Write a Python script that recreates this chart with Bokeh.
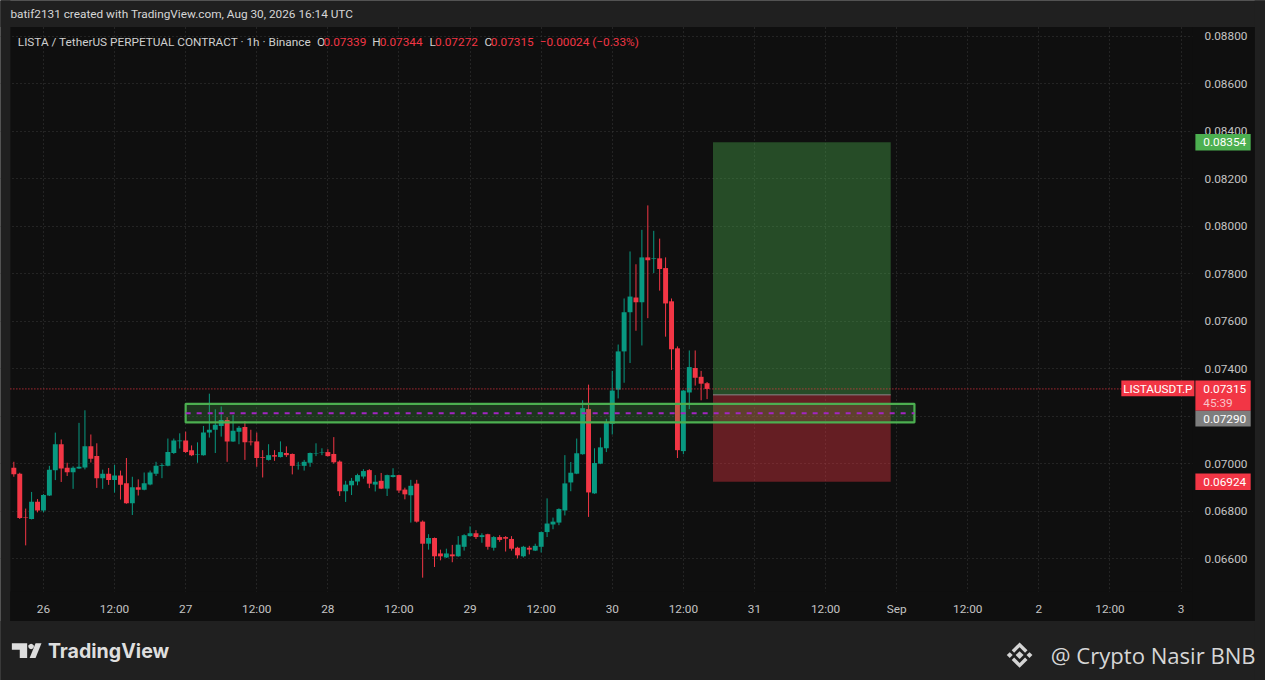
from bokeh.plotting import figure
from bokeh.models import (ColumnDataSource, Range1d, FixedTicker, PrintfTickFormatter,
                          BoxAnnotation, Label, PolyAnnotation)
from bokeh.embed import file_html
from bokeh.resources import INLINE
import math

# ------------------------------------------------------------------ data
# hourly candles, first one = 25 Aug 19:00 (hour -5 relative to 26 Aug 00:00)
first_hour = -5
opens = [
    0.06983, 0.06958, 0.06775, 0.06767, 0.06840, 0.06803, 0.06866, 0.06972, 0.07082, 0.06983,
    0.06964, 0.06980, 0.06984, 0.07073, 0.07032, 0.06939, 0.06958, 0.06931, 0.06950, 0.06918,
    0.06833, 0.06901, 0.06890, 0.06912, 0.06958, 0.06991, 0.06991, 0.07045, 0.07095, 0.07098,
    0.07057, 0.07039, 0.07036, 0.07131, 0.07143, 0.07159, 0.07184, 0.07094, 0.07135, 0.07155,
    0.07094, 0.07094, 0.07028, 0.07016, 0.07036, 0.07028, 0.07045, 0.07041, 0.06993, 0.06991,
    0.07004, 0.07043, 0.07047, 0.07049, 0.07041, 0.07009, 0.06884, 0.06909, 0.06925, 0.06946,
    0.06973, 0.06912, 0.06928, 0.06895, 0.06944, 0.06952, 0.06891, 0.06867, 0.06916, 0.06756,
    0.06663, 0.06687, 0.06622, 0.06605, 0.06618, 0.06610, 0.06650, 0.06695, 0.06707, 0.06691,
    0.06703, 0.06646, 0.06691, 0.06691, 0.06683, 0.06646, 0.06610, 0.06646, 0.06634, 0.06650,
    0.06712, 0.06744, 0.06752, 0.06803, 0.06921, 0.06958, 0.07040, 0.07230, 0.06875, 0.07000,
    0.07065, 0.07168, 0.07312, 0.07473, 0.07638, 0.07700, 0.07680, 0.07869, 0.07862, 0.07865,
    0.07824, 0.07684, 0.07486, 0.07053, 0.07300, 0.07403, 0.07366, 0.07339]
highs = [
    0.07008, 0.06962, 0.06811, 0.06881, 0.06851, 0.06872, 0.06991, 0.07131, 0.07102, 0.07004,
    0.06989, 0.07172, 0.07225, 0.07123, 0.07086, 0.06975, 0.06982, 0.06995, 0.06971, 0.07024,
    0.06945, 0.06934, 0.06963, 0.06971, 0.07008, 0.07002, 0.07106, 0.07106, 0.07128, 0.07135,
    0.07077, 0.07090, 0.07159, 0.07295, 0.07229, 0.07241, 0.07196, 0.07205, 0.07159, 0.07180,
    0.07143, 0.07131, 0.07057, 0.07082, 0.07057, 0.07094, 0.07073, 0.07043, 0.07008, 0.07016,
    0.07047, 0.07086, 0.07065, 0.07061, 0.07112, 0.07014, 0.06928, 0.06940, 0.06958, 0.06977,
    0.06977, 0.06952, 0.06961, 0.06954, 0.06981, 0.06954, 0.06899, 0.06932, 0.06932, 0.06761,
    0.06703, 0.06689, 0.06638, 0.06642, 0.06658, 0.06695, 0.06703, 0.06736, 0.06720, 0.06707,
    0.06705, 0.06695, 0.06699, 0.06695, 0.06695, 0.06650, 0.06654, 0.06654, 0.06663, 0.06714,
    0.06854, 0.06773, 0.06812, 0.07036, 0.07007, 0.07106, 0.07267, 0.07333, 0.07065, 0.07110,
    0.07189, 0.07391, 0.07502, 0.07696, 0.07894, 0.07840, 0.07985, 0.08088, 0.07981, 0.07948,
    0.07869, 0.07696, 0.07494, 0.07310, 0.07477, 0.07477, 0.07391, 0.07344]
lows = [
    0.06945, 0.06767, 0.06656, 0.06765, 0.06795, 0.06795, 0.06864, 0.06931, 0.06923, 0.06948,
    0.06894, 0.06978, 0.06976, 0.07005, 0.06898, 0.06894, 0.06911, 0.06878, 0.06849, 0.06831,
    0.06784, 0.06866, 0.06888, 0.06909, 0.06948, 0.06939, 0.06989, 0.07041, 0.07064, 0.07045,
    0.07032, 0.07004, 0.07034, 0.07110, 0.07045, 0.07114, 0.07008, 0.07092, 0.07082, 0.07016,
    0.07077, 0.06987, 0.06942, 0.07013, 0.07012, 0.07026, 0.07028, 0.06955, 0.06975, 0.06971,
    0.06987, 0.07032, 0.07036, 0.07030, 0.07000, 0.06864, 0.06839, 0.06868, 0.06909, 0.06937,
    0.06897, 0.06883, 0.06893, 0.06864, 0.06942, 0.06877, 0.06850, 0.06752, 0.06752, 0.06520,
    0.06638, 0.06565, 0.06593, 0.06603, 0.06585, 0.06608, 0.06634, 0.06693, 0.06683, 0.06667,
    0.06638, 0.06634, 0.06671, 0.06630, 0.06634, 0.06601, 0.06605, 0.06618, 0.06632, 0.06626,
    0.06691, 0.06724, 0.06741, 0.06782, 0.06884, 0.06956, 0.07038, 0.06776, 0.06873, 0.06998,
    0.07049, 0.07123, 0.07275, 0.07341, 0.07424, 0.07560, 0.07498, 0.07613, 0.07803, 0.07729,
    0.07535, 0.07395, 0.07024, 0.07040, 0.07230, 0.07329, 0.07267, 0.07272]
closes = [
    0.06956, 0.06771, 0.06773, 0.06840, 0.06803, 0.06868, 0.06975, 0.07082, 0.06980, 0.06964,
    0.06983, 0.06987, 0.07073, 0.07021, 0.06939, 0.06958, 0.06931, 0.06950, 0.06911, 0.06833,
    0.06901, 0.06890, 0.06918, 0.06963, 0.06991, 0.06995, 0.07049, 0.07098, 0.07098, 0.07049,
    0.07036, 0.07041, 0.07131, 0.07143, 0.07164, 0.07184, 0.07094, 0.07139, 0.07151, 0.07090,
    0.07090, 0.07024, 0.07025, 0.07036, 0.07030, 0.07049, 0.07036, 0.06991, 0.06995, 0.07008,
    0.07045, 0.07045, 0.07049, 0.07032, 0.07006, 0.06884, 0.06912, 0.06928, 0.06952, 0.06969,
    0.06916, 0.06924, 0.06895, 0.06952, 0.06952, 0.06887, 0.06871, 0.06907, 0.06756, 0.06663,
    0.06687, 0.06610, 0.06610, 0.06622, 0.06610, 0.06659, 0.06699, 0.06707, 0.06691, 0.06699,
    0.06650, 0.06691, 0.06679, 0.06684, 0.06642, 0.06614, 0.06650, 0.06638, 0.06654, 0.06712,
    0.06748, 0.06756, 0.06809, 0.06917, 0.06962, 0.07044, 0.07234, 0.06879, 0.07003, 0.07069,
    0.07172, 0.07308, 0.07473, 0.07638, 0.07704, 0.07680, 0.07869, 0.07857, 0.07865, 0.07820,
    0.07675, 0.07482, 0.07057, 0.07308, 0.07407, 0.07362, 0.07337, 0.07315]

date_tick_hours = [0, 12, 24, 36, 48, 60, 72, 84, 96, 108, 120, 132, 144, 156, 168, 180, 192]
date_tick_labels = ["26", "12:00", "27", "12:00", "28", "12:00", "29", "12:00", "30",
                    "12:00", "31", "12:00", "Sep", "12:00", "2", "12:00", "3"]
price_ticks = [0.066, 0.068, 0.070, 0.072, 0.074, 0.076, 0.078, 0.080, 0.082, 0.084, 0.086, 0.088]

last_price = 0.07315
countdown = "45:39"
symbol_tag = "LISTAUSDT.P"
entry_price = 0.07290
target_price = 0.08354
stop_price = 0.06924
position_hours = [113, 143]
zone_top, zone_mid, zone_bottom = 0.07252, 0.07212, 0.07174
zone_hours = [24, 147]

header_text = "batif2131 created with TradingView.com, Aug 30, 2026 16:14 UTC"
legend_title = "LISTA / TetherUS PERPETUAL CONTRACT · 1h · Binance"
ohlc_names = ["O", "H", "L", "C"]
ohlc_values = ["0.07339", "0.07344", "0.07272", "0.07315"]
change_text = "\u22120.00024 (\u22120.33%)"
brand_text = "TradingView"
watermark_text = "@ Crypto Nasir BNB"

# ------------------------------------------------------------------ layout
UP, DOWN = "#089981", "#f23645"
GREEN, GRAY_LBL = "#4caf50", "#7e7e7e"
OUTER, PANEL = "#202020", "#0f0f0f"
FONT = "Roboto"

# the figure shows the whole 1281x696 design, scaled into a 1265x680 canvas
DW, DH = 1281, 696
CW, CH = 1265, 680
SX, SY = CW / DW, CH / DH
HOUR0_PX, PX_PER_HOUR = 43.5, 6.0                    # design-pixel calibration
PRICE0, PRICE0_PX, PX_PER_PRICE = 0.088, 36.7, 24300.0


def xd(px):
    return (px - HOUR0_PX) / PX_PER_HOUR


def yd(py):
    return PRICE0 - (py - PRICE0_PX) / PX_PER_PRICE


def py_of(price):
    return PRICE0_PX + (PRICE0 - price) * PX_PER_PRICE


def fs(v):
    return f"{v * (SX + SY) / 2:.1f}px"


p = figure(frame_width=CW, frame_height=CH,
           x_range=Range1d(xd(0), xd(DW)), y_range=Range1d(yd(DH), yd(0)),
           output_backend="svg", toolbar_location=None, y_axis_location="right",
           min_border_left=0, min_border_right=0, min_border_top=0, min_border_bottom=0,
           background_fill_color=PANEL, border_fill_color=OUTER)
p.outline_line_color = None
p.title.visible = False

# axes: drawn at the outer edge, labels pulled back into the dark panel
p.xaxis.ticker = FixedTicker(ticks=date_tick_hours)
p.xaxis.major_label_overrides = {h: s for h, s in zip(date_tick_hours, date_tick_labels)}
p.yaxis.ticker = FixedTicker(ticks=price_ticks)
p.yaxis.formatter = PrintfTickFormatter(format="%.5f")
for ax in (p.xaxis[0], p.yaxis[0]):
    ax.axis_line_color = None
    ax.minor_tick_line_color = None
    ax.major_tick_line_color = None
    ax.major_tick_out = 0
    ax.major_tick_in = 0
    ax.major_label_text_color = "#c4c4c4"
    ax.major_label_text_font = FONT
    ax.major_label_text_font_size = fs(12)
p.yaxis.major_label_standoff = round(1219 * SX - CW)
p.xaxis.major_label_standoff = round(615 * SY - CH)

p.grid.grid_line_color = "#3a3a3a"
p.grid.grid_line_dash = "1 3"


def rect(px0, px1, py0, py1, color):
    p.quad(left=xd(px0), right=xd(px1), top=yd(py0), bottom=yd(py1),
           fill_color=color, line_color=None)


# panel frame: outer margins, and the axis strips without grid
rect(-10, 1300, -10, 27, OUTER)
rect(-10, 1300, 635, 710, OUTER)
rect(-10, 10, -10, 710, OUTER)
rect(1270, 1300, -10, 710, OUTER)
rect(1207, 1270, 27, 635, PANEL)
rect(10, 1207, 605, 635, PANEL)

# position tool (long)
p.quad(left=position_hours[0], right=position_hours[1], bottom=entry_price, top=target_price,
       fill_color=GREEN, fill_alpha=0.38, line_color=None)
p.quad(left=position_hours[0], right=position_hours[1], bottom=stop_price, top=entry_price,
       fill_color=DOWN, fill_alpha=0.38, line_color=None)
p.segment(x0=position_hours[0], y0=entry_price, x1=position_hours[1], y1=entry_price,
          line_color="#8a8a8a", line_width=1)

# candles
hours = [first_hour + i for i in range(len(opens))]
src = ColumnDataSource(dict(
    x=hours, h=highs, l=lows,
    top=[max(o, c) for o, c in zip(opens, closes)],
    bottom=[min(o, c) for o, c in zip(opens, closes)],
    color=[UP if c >= o else DOWN for o, c in zip(opens, closes)]))
p.segment(x0="x", y0="h", x1="x", y1="l", line_color="color", line_width=1, source=src)
p.vbar(x="x", width=5 / 6, top="top", bottom="bottom", fill_color="color",
       line_color=None, source=src)

# support zone rectangle
p.quad(left=zone_hours[0], right=zone_hours[1], bottom=zone_bottom, top=zone_top,
       fill_color=GREEN, fill_alpha=0.24, line_color=GREEN, line_width=2.2)
p.segment(x0=zone_hours[0], y0=zone_mid, x1=zone_hours[1], y1=zone_mid,
          line_color="#a324c2", line_dash="5 6", line_width=2)

# last price line across the chart area
p.segment(x0=xd(10), y0=last_price, x1=xd(1207), y1=last_price,
          line_color=DOWN, line_dash="1 2", line_width=1)


def box(px0, px1, py0, py1, color):
    p.add_layout(BoxAnnotation(left=xd(px0), right=xd(px1), top=yd(py0), bottom=yd(py1),
                               fill_color=color, fill_alpha=1, line_color=None))


def text(px, py, s, color, size=12, align="left", font=FONT, style="normal"):
    p.add_layout(Label(x=xd(px), y=yd(py), text=s, text_color=color, text_font_size=fs(size),
                       text_align=align, text_baseline="middle", text_font=font,
                       text_font_style=style))


# price scale labels
yt = py_of(target_price)
box(1210, 1266, yt - 8.5, yt + 8.5, GREEN)
text(1218, yt, f"{target_price:.5f}", "#ffffff")
yl = py_of(last_price)
box(1210, 1266, yl - 8.6, yl + 22.4, DOWN)
text(1218, yl, f"{last_price:.5f}", "#ffffff")
text(1218, yl + 14, countdown, "#f8c3c8")
box(1135, 1209, yl - 8.6, yl + 7.4, DOWN)
text(1172, yl, symbol_tag, "#ffffff", align="center")
ye = py_of(entry_price)
box(1210, 1266, ye + 16.4, ye + 32.4, GRAY_LBL)
text(1218, ye + 24.8, f"{entry_price:.5f}", "#ffffff")
ys = py_of(stop_price)
box(1210, 1266, ys - 8.5, ys + 8.5, DOWN)
text(1218, ys, f"{stop_price:.5f}", "#ffffff")

# header and legend line
text(10, 14, header_text, "#d6d6d6")
text(17.5, 42, legend_title, "#cfcfcf")
name_x = [320.5, 376.5, 434.5, 490]
val_x = [327, 384, 440, 496.5]
for nx, vx, n, v in zip(name_x, val_x, ohlc_names, ohlc_values):
    text(nx, 42, n, "#cfcfcf")
    text(vx, 42, v, DOWN)
text(546, 42, change_text, DOWN)


def poly(pts, color="#dedede"):
    p.add_layout(PolyAnnotation(xs=[xd(a) for a, b in pts], ys=[yd(b) for a, b in pts],
                                fill_color=color, fill_alpha=1, line_color=None))


# footer: TradingView logo
poly([(11.5, 658), (27, 658), (27, 673), (19.5, 673), (19.5, 664.5), (11.5, 664.5)])
poly([(31 + 2.8 * math.cos(t / 12 * 2 * math.pi), 661.2 + 2.8 * math.sin(t / 12 * 2 * math.pi))
      for t in range(12)])
poly([(35.5, 658), (41.5, 658), (35.5, 673), (29.5, 673)])
text(48, 666, brand_text, "#dedede", size=20, font="Inter", style="bold")

# footer: watermark with diamond icon
for pts in ([(1032, 666), (1036, 670), (1032, 674), (1028, 670)],
            [(1019, 670), (1022, 667), (1025, 670), (1022, 673)],
            [(1039, 670), (1042, 667), (1045, 670), (1042, 673)],
            [(1024, 665), (1032, 657), (1040, 665), (1037.5, 667.5), (1032, 662), (1026.5, 667.5)],
            [(1024, 675), (1032, 683), (1040, 675), (1037.5, 672.5), (1032, 678), (1026.5, 672.5)]):
    poly(pts, "#d4d4d4")
text(1271, 670, watermark_text, "#d6d6d6", size=22.5, align="right", font="Open Sans")

open("out.html", "w").write(file_html(p, INLINE))
